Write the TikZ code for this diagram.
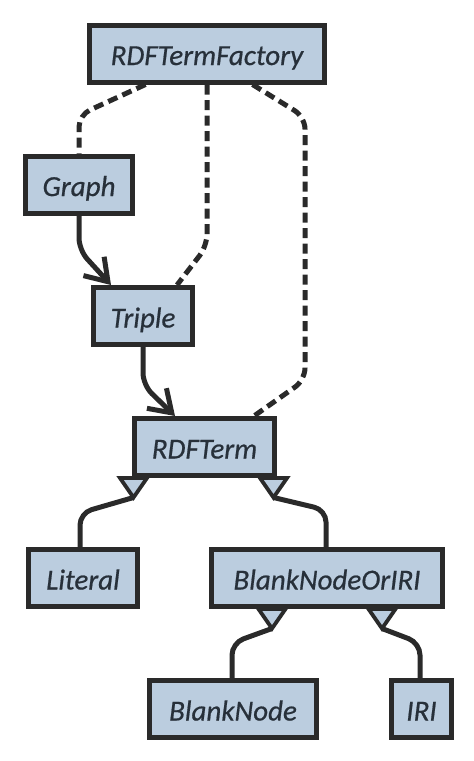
\documentclass[tikz,border=0pt]{standalone}
\usepackage{fontspec}
\setmainfont{Carlito}[ItalicFeatures={FakeBold=0.6}]
\usetikzlibrary{arrows.meta,backgrounds}
\definecolor{boxfill}{HTML}{BBCDDF}
\definecolor{ink}{HTML}{2A2A2A}
\definecolor{txt}{HTML}{27303A}
\begin{document}
\begin{tikzpicture}[x=1pt,y=-1pt,
  cls/.style={draw=ink, line width=5pt, fill=boxfill, minimum height=57pt, inner sep=0pt,
    text height=26pt, text depth=3pt, font=\fontsize{29}{31}\selectfont\itshape, text=txt},
  dep/.style={draw=ink, line width=5pt, dash pattern=on 10pt off 5.5pt, rounded corners=12pt},
  assoc/.style={draw=ink, line width=5pt, rounded corners=12pt, -{Straight Barb[length=21pt,width=28pt]}},
  gen/.style={draw=ink, line width=5pt, rounded corners=12pt},
  tri/.style={draw=ink, line width=3.8pt, fill=boxfill, line join=miter}]
\useasboundingbox (0,0) rectangle (474,761);
\node[cls, minimum width=235pt] (factory) at (207,53.5) {RDFTermFactory};
\node[cls, minimum width=107pt] (graph) at (79,184.5) {Graph};
\node[cls, minimum width=99pt] (triple) at (143,316) {Triple};
\node[cls, minimum width=140pt] (term) at (204.5,447) {RDFTerm};
\node[cls, minimum width=109pt] (literal) at (83,578) {Literal};
\node[cls, minimum width=231pt] (bnoi) at (327,578) {BlankNodeOrIRI};
\node[cls, minimum width=167pt] (bnode) at (233,709) {BlankNode};
\node[cls, minimum width=60pt] (iri) at (421.5,709) {IRI};
\begin{pgfonlayer}{background}
\draw[dep] ([xshift=58.5pt]factory.south west) -- (79,115) -- (graph.north);
\draw[dep] (factory.south) -- (207,246) -- ([xshift=-18pt]triple.north east);
\draw[dep] ([xshift=-74.5pt]factory.south east) -- (305,117) -- (305,380) -- ([xshift=-23pt]term.north east);
\draw[assoc] (graph.south) -- (79,250) -- ([xshift=20pt]triple.north west);
\draw[assoc] (triple.south) -- (143,385) -- ([xshift=43pt]term.north west);
\coordinate (t1) at ([xshift=1.5pt,yshift=-19.5pt]term.south west);
\coordinate (t2) at ([xshift=-3.5pt,yshift=-19.5pt]term.south east);
\coordinate (t3) at ([xshift=-55pt,yshift=-19.5pt]bnoi.south);
\coordinate (t4) at ([xshift=55pt,yshift=-19.5pt]bnoi.south);
\draw[gen] ([xshift=-3pt]literal.north) -- (80,513) -- (t1);
\draw[gen] ([xshift=-1pt]bnoi.north) -- (326,510) -- (t2);
\draw[gen] ([xshift=-1pt]bnode.north) -- (232,643) -- (t3);
\draw[gen] ([xshift=-1.5pt]iri.north) -- (420,643) -- (t4);
\end{pgfonlayer}
\foreach \t in {t1,t2,t3,t4} \draw[tri] (\t) -- ++(-13.5,-19.5) -- ++(27,0) -- cycle;
\end{tikzpicture}
\end{document}
